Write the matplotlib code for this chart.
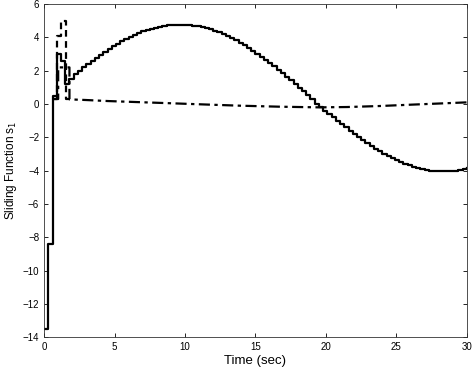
import numpy as np
import matplotlib
matplotlib.use('Agg')
import matplotlib.pyplot as plt

plt.rcParams['font.family'] = ['Liberation Sans', 'DejaVu Sans']

# sample period of the controller (zero-order hold)
step = 0.3
s1_solid = [-13.5, -8.4, 0.5, 3.0, 2.6, 1.2, 1.5, 1.79, 2.00, 2.21,
            2.41, 2.60, 2.79, 2.97, 3.15, 3.32, 3.48, 3.63, 3.78, 3.91,
            4.04, 4.16, 4.26, 4.36, 4.45, 4.53, 4.59, 4.65, 4.70, 4.73,
            4.75, 4.77, 4.77, 4.76, 4.74, 4.71, 4.67, 4.61, 4.55, 4.48,
            4.39, 4.30, 4.19, 4.08, 3.95, 3.82, 3.68, 3.53, 3.37, 3.21,
            3.03, 2.85, 2.67, 2.47, 2.28, 2.07, 1.87, 1.65, 1.44, 1.22,
            0.99, 0.76, 0.53, 0.28, 0.02, -0.20, -0.40, -0.60, -0.80, -1.00,
            -1.20, -1.40, -1.60, -1.79, -1.98, -2.17, -2.35, -2.52, -2.68, -2.84,
            -2.99, -3.13, -3.26, -3.38, -3.50, -3.60, -3.69, -3.77, -3.85, -3.91,
            -3.96, -4.00, -4.03, -4.04, -4.05, -4.04, -4.03, -4.00, -3.96, -3.91,
            -3.85]

dash_t = [0.6, 0.9, 1.2, 1.55, 1.8]
dash_y = [0.3, 4.1, 5.0, 0.3, 0.3]

dashdot_t = [0.6, 1.0, 1.0, 1.8, 1.8, 3.0, 4.5, 6.5, 9.2, 11.5, 13.9, 16.7, 19.5, 21.5, 23.8, 26.0, 28.0, 30.0]
dashdot_y = [0.3, 0.3, 2.2, 2.2, 0.28, 0.24, 0.18, 0.12, 0.04, -0.03, -0.1, -0.16, -0.2, -0.18, -0.12, -0.04, 0.03, 0.1]

t = np.arange(len(s1_solid)) * step

fig = plt.figure(figsize=(4.74, 3.73), dpi=100)
ax = fig.add_axes([0.093, 0.096, 0.892, 0.893])

ax.plot(t, s1_solid, drawstyle='steps-post', color='black', lw=1.6)
ax.plot(dash_t, dash_y, drawstyle='steps-post', color='black', lw=1.6, ls=(0, (3, 2)))
ax.plot(dashdot_t, dashdot_y, color='black', lw=1.6, ls=(0, (5, 2, 1.5, 2)))

ax.set_xlim(0, 30)
ax.set_ylim(-14, 6)
ax.set_xticks(np.arange(0, 31, 5))
ax.set_yticks(np.arange(-14, 7, 2))
ax.tick_params(direction='in', top=True, right=True, labelsize=7, length=3, width=0.6)
for sp in ax.spines.values():
    sp.set_linewidth(0.6)
    sp.set_color('#333333')
ax.set_xlabel('Time (sec)', fontsize=9.5, labelpad=2)
ax.set_ylabel('Sliding Function s$_1$', fontsize=8.5, labelpad=3)

plt.savefig('out.png', dpi=100)
